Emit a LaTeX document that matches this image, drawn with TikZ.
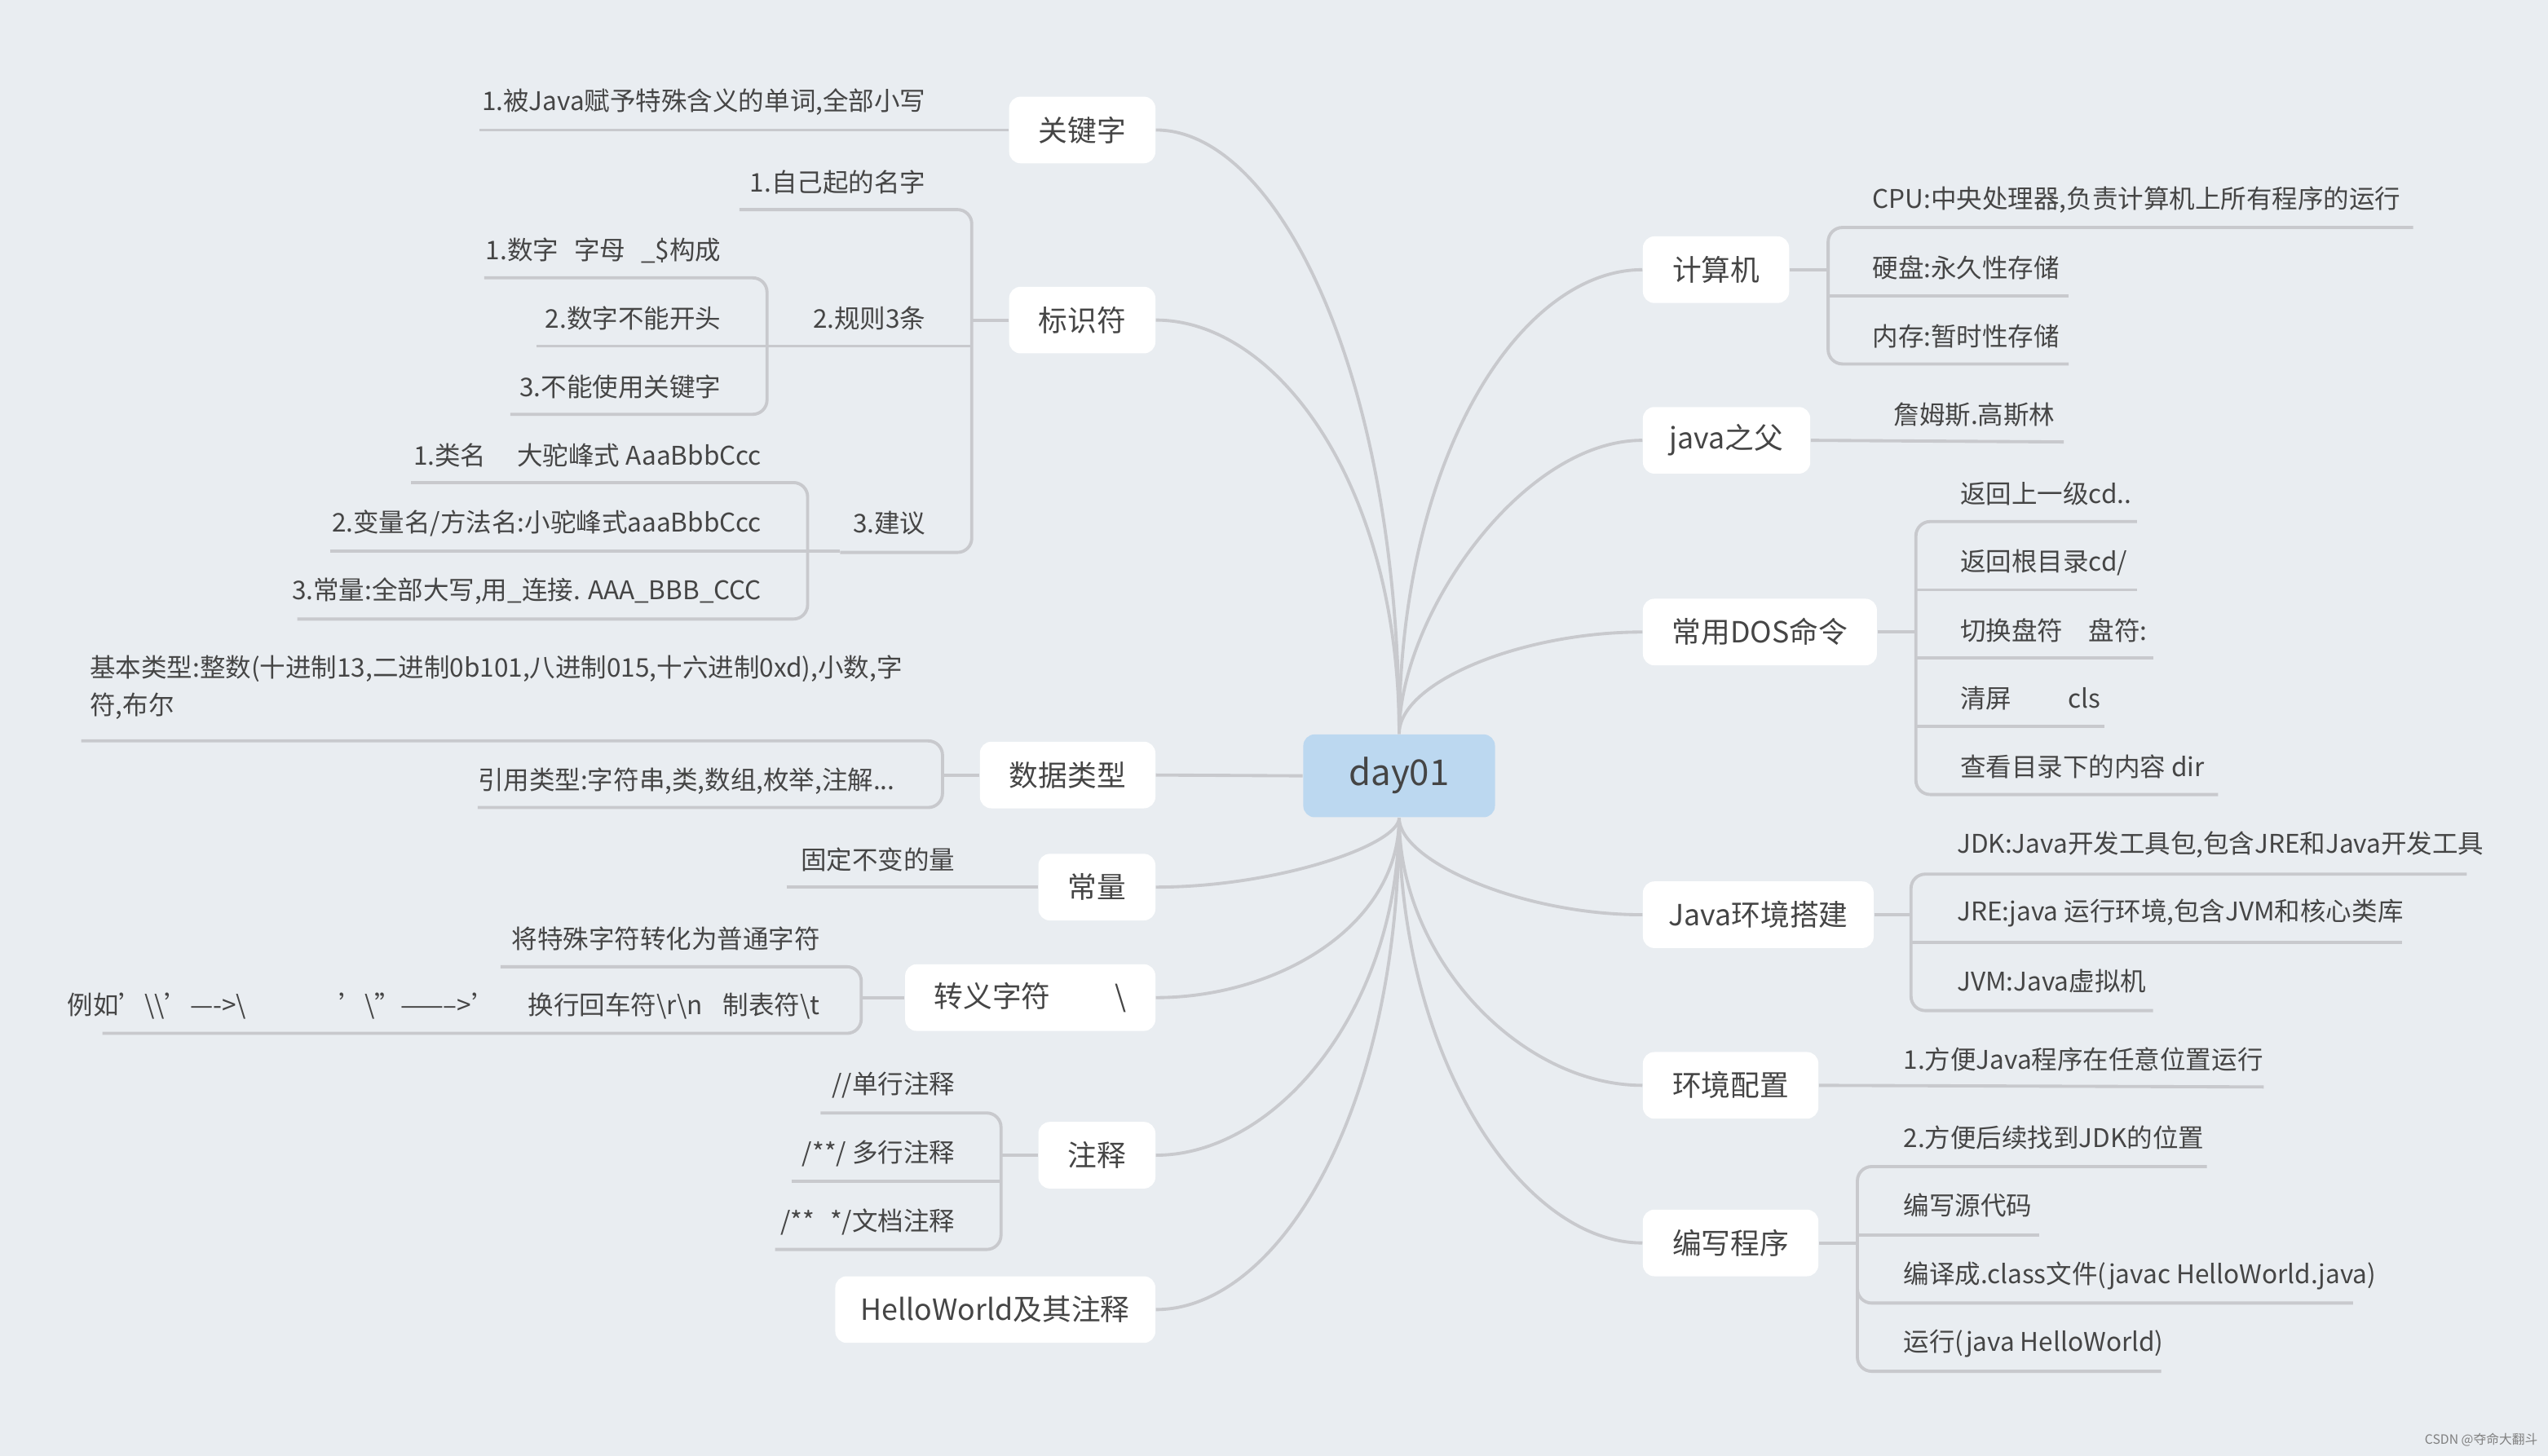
\documentclass[tikz,border=0pt]{standalone}
\usepackage{fontspec}
\setmainfont{Noto Sans CJK SC}
\definecolor{bg}{HTML}{E9EDF1}
\definecolor{ln}{HTML}{C8C9CD}
\definecolor{tx}{HTML}{454545}
\definecolor{ctr}{HTML}{BCD8F0}
\tikzset{
  ln/.style={draw=ln,line width=1.1pt},
  br/.style={ln,rounded corners=5pt},
  mainbox/.style={fill=white,rounded corners=4pt,text=tx,font=\fontsize{10.2}{12}\selectfont,minimum height=0.82cm,inner sep=0pt},
  lfl/.style={text=tx,font=\fontsize{9}{13}\selectfont,inner sep=0pt,anchor=east},
  lfr/.style={text=tx,font=\fontsize{9}{13}\selectfont,inner sep=0pt,anchor=west},
}
\begin{document}
\begin{tikzpicture}[x=0.02cm,y=-0.02cm]
\fill[bg] (0,0) rectangle (1568,896);
\useasboundingbox (0,0) rectangle (1568,896);
% center
\node[fill=ctr,rounded corners=4pt,text=tx,font=\fontsize{12.5}{14}\selectfont,minimum width=2.36cm,minimum height=1.02cm,inner sep=0pt] (c) at (861,477.5) {day01};
% left main nodes
\node[mainbox,minimum width=1.8cm] (kw) at (666,80) {关键字};
\node[mainbox,minimum width=1.8cm] (id) at (666,197) {标识符};
\node[mainbox,minimum width=2.16cm] (dt) at (657,477) {数据类型};
\node[mainbox,minimum width=1.44cm] (cl) at (675,546) {常量};
\node[mainbox,minimum width=3.08cm] (es) at (634,614) {转义字符\hspace{2.2em}\textbackslash};
\node[mainbox,minimum width=1.44cm] (cm) at (675,711) {注释};
\node[mainbox,minimum width=3.94cm] (hw) at (612.5,806) {HelloWorld及其注释};
% right main nodes
\node[mainbox,minimum width=1.8cm] (pc) at (1056,166) {计算机};
\node[mainbox,minimum width=2.06cm] (jf) at (1062.5,271) {java之父};
\node[mainbox,minimum width=2.88cm] (dos) at (1083,389) {常用DOS命令};
\node[mainbox,minimum width=2.84cm] (je) at (1082,563) {Java环境搭建};
\node[mainbox,minimum width=2.16cm] (ev) at (1065,668) {环境配置};
\node[mainbox,minimum width=2.16cm] (wp) at (1065,765) {编写程序};
% curves
\draw[ln] (c.north) .. controls (861,230) and (786,80) .. (kw.east);
\draw[ln] (c.north) .. controls (861,299) and (786,197) .. (id.east);
\draw[ln] (c.west) -- (dt.east);
\draw[ln] (c.south) .. controls (861,520) and (786,546) .. (cl.east);
\draw[ln] (c.south) .. controls (861,570) and (786,614) .. (es.east);
\draw[ln] (c.south) .. controls (861,620) and (786,711) .. (cm.east);
\draw[ln] (c.south) .. controls (861,685) and (786,806) .. (hw.east);
\draw[ln] (c.north) .. controls (861,280) and (936,166) .. (pc.west);
\draw[ln] (c.north) .. controls (861,380) and (936,271) .. (jf.west);
\draw[ln] (c.north) .. controls (861,420) and (936,389) .. (dos.west);
\draw[ln] (c.south) .. controls (861,530) and (936,563) .. (je.west);
\draw[ln] (c.south) .. controls (861,590) and (936,668) .. (ev.west);
\draw[ln] (c.south) .. controls (861,650) and (936,765) .. (wp.west);
% ---- 关键字
\node[lfl] (kw1) at (570,63) {1.被Java赋予特殊含义的单词,全部小写};
\draw[ln] (295,80) -- (kw.west);
% ---- 标识符
\node[lfl] (id1) at (570,112) {1.自己起的名字};
\node[lfl] (id2) at (570,196) {2.规则3条};
\node[lfl] (id3) at (570,322) {3.建议};
\draw[br] (455,129) -- (598,129) -- (598,340) -- (517,340);
\draw[ln] (492,213) -- (598,213);
\draw[ln] (598,197) -- (id.west);
\node[lfl] (r1) at (444,154) {1.数字\hspace{0.6em}字母\hspace{0.6em}\_\$构成};
\node[lfl] (r2) at (444,196) {2.数字不能开头};
\node[lfl] (r3) at (444,238) {3.不能使用关键字};
\draw[br] (298,171) -- (472,171) -- (472,255) -- (314,255);
\draw[ln] (330,213) -- (472,213);
\draw[ln] (472,213) -- (492,213);
\node[lfl] (s1) at (469,280) {1.类名\hspace{1.2em}大驼峰式 AaaBbbCcc};
\node[lfl] (s2) at (469,322) {2.变量名/方法名:小驼峰式aaaBbbCcc};
\node[lfl] (s3) at (469,364) {3.常量:全部大写,用\_连接. AAA\_BBB\_CCC};
\draw[br] (253,297) -- (497,297) -- (497,381) -- (183,381);
\draw[ln] (203,339) -- (517,339);
% ---- 数据类型
\node[text=tx,font=\fontsize{9}{13}\selectfont,inner sep=0pt,anchor=north west,align=left] (d1) at (55,403) {基本类型:整数(十进制13,二进制0b101,八进制015,十六进制0xd),小数,字\\符,布尔};
\node[lfl] (d2) at (551,481) {引用类型:字符串,类,数组,枚举,注解...};
\draw[br] (50,456) -- (580,456) -- (580,497) -- (294,497);
\draw[ln] (580,477) -- (dt.west);
% ---- 常量
\node[lfl] (cl1) at (588,529) {固定不变的量};
\draw[ln] (484,546) -- (cl.west);
% ---- 转义
\node[lfl] (e1) at (505,578) {将特殊字符转化为普通字符};
\node[lfl] (e2) at (505,619) {例如'\textbackslash\textbackslash'---->\textbackslash\hspace{3.6em}'\textbackslash''-------->'\hspace{1.2em}换行回车符\textbackslash r\textbackslash n\hspace{0.8em}制表符\textbackslash t};
\draw[br] (308,595) -- (530,595) -- (530,636) -- (63,636);
\draw[ln] (530,614) -- (es.west);
% ---- 注释
\node[lfl] (c1) at (588,668) {//单行注释};
\node[lfl] (c2) at (588,710) {/**/ 多行注释};
\node[lfl] (c3) at (588,752) {/**\hspace{0.6em}*/文档注释};
\draw[br] (505,685) -- (616,685) -- (616,769) -- (477,769);
\draw[ln] (487,727) -- (616,727);
\draw[ln] (616,711) -- (cm.west);
% ---- 计算机
\node[lfr] (p1) at (1152,123) {CPU:中央处理器,负责计算机上所有程序的运行};
\node[lfr] (p2) at (1152,165) {硬盘:永久性存储};
\node[lfr] (p3) at (1152,207) {内存:暂时性存储};
\draw[br] (1485,140) -- (1125,140) -- (1125,224) -- (1273,224);
\draw[ln] (1125,182) -- (1273,182);
\draw[ln] (pc.east) -- (1125,166);
% ---- java之父
\node[lfr] (j1) at (1165,255) {詹姆斯.高斯林};
\draw[ln] (jf.east) -- (1270,272);
% ---- DOS
\node[lfr] (o1) at (1206,304) {返回上一级cd..};
\node[lfr] (o2) at (1206,346) {返回根目录cd/};
\node[lfr] (o3) at (1206,388) {切换盘符\hspace{1em}盘符:};
\node[lfr] (o4) at (1206,430) {清屏\hspace{2.2em}cls};
\node[lfr] (o5) at (1206,472) {查看目录下的内容 dir};
\draw[br] (1315,321) -- (1179,321) -- (1179,489) -- (1365,489);
\draw[ln] (1179,363) -- (1315,363);
\draw[ln] (1179,405) -- (1325,405);
\draw[ln] (1179,447) -- (1295,447);
\draw[ln] (dos.east) -- (1179,389);
% ---- Java环境
\node[lfr] (v1) at (1204,520) {JDK:Java开发工具包,包含JRE和Java开发工具};
\node[lfr] (v2) at (1204,562) {JRE:java 运行环境,包含JVM和核心类库};
\node[lfr] (v3) at (1204,604) {JVM:Java虚拟机};
\draw[br] (1518,538) -- (1176,538) -- (1176,622) -- (1325,622);
\draw[ln] (1176,580) -- (1478,580);
\draw[ln] (je.east) -- (1176,563);
% ---- 环境配置
\node[lfr] (g1) at (1171,652) {1.方便Java程序在任意位置运行};
\draw[ln] (ev.east) -- (1393,669);
% ---- 编写程序
\node[lfr] (w1) at (1171,700) {2.方便后续找到JDK的位置};
\node[lfr] (w2) at (1171,742) {编写源代码};
\node[lfr] (w3) at (1171,785) {编译成.class文件(javac HelloWorld.java)};
\node[lfr] (w4) at (1171,827) {运行(java HelloWorld)};
\draw[br] (1358,718) -- (1143,718) -- (1143,844) -- (1330,844);
\draw[ln] (1143,760) -- (1255,760);
\draw[br] (1143,760) -- (1143,802) -- (1448,802);
\draw[ln] (wp.east) -- (1143,765);
% watermark
\node[text=gray,font=\fontsize{4.5}{5}\selectfont,anchor=east,inner sep=0pt] (wm) at (1562,886) {CSDN @夺命大翻斗};
\end{tikzpicture}
\end{document}
